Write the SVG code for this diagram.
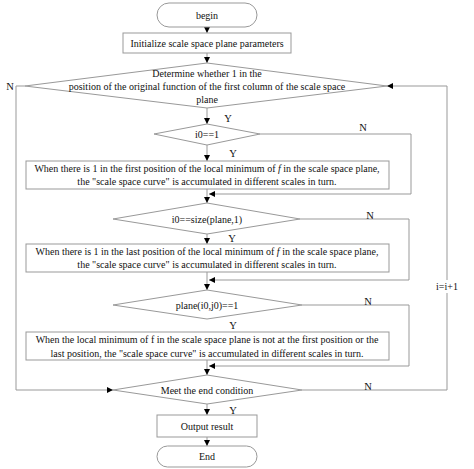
<svg xmlns="http://www.w3.org/2000/svg" width="474" height="469" viewBox="0 0 474 469">
<style>
.s{fill:#fff;stroke:#999;stroke-width:1}
.c{fill:none;stroke:#999;stroke-width:1}
text{font-family:"Liberation Serif","Times New Roman",serif;font-size:10px;fill:#111;text-anchor:middle}
.l{font-size:10.5px}
</style>
<defs>
<marker id="a" markerWidth="6" markerHeight="6" refX="6" refY="3" orient="auto" markerUnits="userSpaceOnUse">
<path d="M0,0 L6,3 L0,6 z" fill="#000"/>
</marker>
</defs>
<g id="connectors">
<path class="c" d="M207,27 V33" marker-end="url(#a)"/>
<path class="c" d="M207,53 V63" marker-end="url(#a)"/>
<path class="c" d="M207,108 V124" marker-end="url(#a)"/>
<path class="c" d="M207,145 V161" marker-end="url(#a)"/>
<path class="c" d="M207,189 V203" marker-end="url(#a)"/>
<path class="c" d="M260,134 H411 V194 H209" marker-end="url(#a)"/>
<path class="c" d="M207,234 V244" marker-end="url(#a)"/>
<path class="c" d="M300,219 H409 V280 H209" marker-end="url(#a)"/>
<path class="c" d="M207,272 V290" marker-end="url(#a)"/>
<path class="c" d="M302,305 H409 V366 H209" marker-end="url(#a)"/>
<path class="c" d="M207,360 V375" marker-end="url(#a)"/>
<path class="c" d="M302,390 H447 V293"/>
<path class="c" d="M447,280 V86 H387" marker-end="url(#a)"/>
<path class="c" d="M25,86 H16 V390 H113" marker-end="url(#a)"/>
<path class="c" d="M207,404 V415" marker-end="url(#a)"/>
<path class="c" d="M207,437 V446" marker-end="url(#a)"/>
<text class="l" x="228" y="122">Y</text>
<text class="l" x="233" y="157">Y</text>
<text class="l" x="232" y="242">Y</text>
<text class="l" x="233" y="329">Y</text>
<text class="l" x="233" y="414">Y</text>
<text class="l" x="363" y="131">N</text>
<text class="l" x="370" y="219">N</text>
<text class="l" x="368" y="305">N</text>
<text class="l" x="368" y="390">N</text>
<text class="l" x="10" y="90">N</text>
<text x="447" y="290">i=i+1</text>
</g>
<g id="begin">
<rect class="s" x="157" y="3" width="100" height="24" rx="12"/>
<text x="207" y="18.5">begin</text>
</g>
<g id="init">
<rect class="s" x="123" y="33" width="168" height="20"/>
<text x="207" y="46.5">Initialize scale space plane parameters</text>
</g>
<g id="d1">
<polygon class="s" points="207,63 387,86 207,108 25,86"/>
<text x="207" y="76.5">Determine whether 1 in the</text>
<text x="207" y="89.5">position of the original function of the first column of the scale space</text>
<text x="207" y="103">plane</text>
</g>
<g id="d2">
<polygon class="s" points="207,124 260,134 207,145 154,134"/>
<text x="207" y="137.5">i0==1</text>
</g>
<g id="r1">
<rect class="s" x="26" y="161" width="363" height="28"/>
<text x="207" y="171.5">When there is 1 in the first position of the local minimum of <tspan font-style="italic">f</tspan> in the scale space plane,</text>
<text x="207" y="185">the "scale space curve" is accumulated in different scales in turn.</text>
</g>
<g id="d3">
<polygon class="s" points="207,203 300,219 207,234 113,219"/>
<text x="207" y="222.5">i0==size(plane,1)</text>
</g>
<g id="r2">
<rect class="s" x="26" y="244" width="363" height="28"/>
<text x="207" y="254.5">When there is 1 in the last position of the local minimum of <tspan font-style="italic">f</tspan> in the scale space plane,</text>
<text x="207" y="268">the "scale space curve" is accumulated in different scales in turn.</text>
</g>
<g id="d4">
<polygon class="s" points="207,290 302,305 207,319 113,305"/>
<text x="207" y="308.5">plane(i0,j0)==1</text>
</g>
<g id="r3">
<rect class="s" x="26" y="332" width="363" height="28"/>
<text x="207" y="343">When the local minimum of f in the scale space plane is not at the first position or the</text>
<text x="207" y="356.5">last position, the "scale space curve" is accumulated in different scales in turn.</text>
</g>
<g id="d5">
<polygon class="s" points="207,375 302,390 207,404 113,390"/>
<text x="207" y="393.5">Meet the end condition</text>
</g>
<g id="out">
<rect class="s" x="157" y="415" width="100" height="22"/>
<text x="207" y="429.5">Output result</text>
</g>
<g id="end">
<rect class="s" x="157" y="446" width="100" height="21" rx="10.5"/>
<text x="207" y="460">End</text>
</g>
</svg>
